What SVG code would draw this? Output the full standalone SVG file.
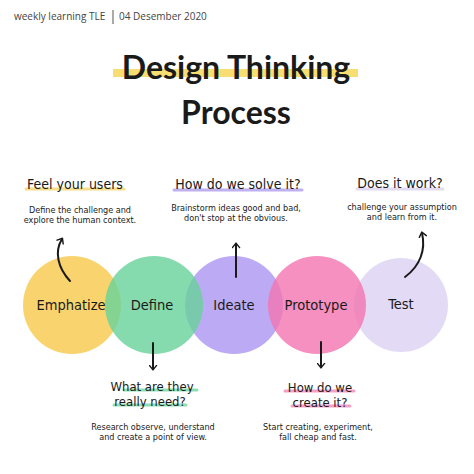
<svg xmlns="http://www.w3.org/2000/svg" width="474" height="474" viewBox="0 0 474 474">
<defs>
<marker id="ah" viewBox="0 0 10 10" refX="5" refY="5" markerWidth="9" markerHeight="9" orient="auto-start-reverse" markerUnits="userSpaceOnUse">
<path d="M1,1 L6,5 L1,9" fill="none" stroke="#1a1a1a" stroke-width="1.6" stroke-linecap="round" stroke-linejoin="round"/>
</marker>
</defs>
<style>
.hdr{font-family:"Open Sans","Liberation Sans",sans-serif;font-size:10px;fill:#444}
.title{font-family:"Lato","Liberation Sans",sans-serif;font-weight:bold;font-size:32px;fill:#1a1a1a;text-anchor:middle}
.lbl{font-family:"Liberation Sans Narrow","DejaVu Sans Condensed","Liberation Sans",sans-serif;font-size:14.5px;fill:#1a1a1a;text-anchor:middle}
.head{font-family:"Liberation Sans Narrow","DejaVu Sans Condensed","Liberation Sans",sans-serif;font-size:14px;fill:#1a1a1a;text-anchor:middle}
.head2{font-family:"Liberation Sans Narrow","DejaVu Sans Condensed","Liberation Sans",sans-serif;font-size:13px;fill:#1a1a1a;text-anchor:middle}
.body{font-family:"Liberation Sans Narrow","DejaVu Sans Condensed","Liberation Sans",sans-serif;font-size:9px;fill:#1a1a1a;text-anchor:middle}
.circ{fill-opacity:0.8}
.conn{fill:none;stroke:#1a1a1a;stroke-width:2;stroke-linecap:round}
.hl{stroke-linecap:round}
</style>
<rect width="474" height="474" fill="#ffffff"/>
<text class="hdr" x="14" y="20">weekly learning TLE</text>
<line x1="113" y1="10" x2="113" y2="24" stroke="#555" stroke-width="1"/>
<text class="hdr" x="119" y="20">04 Desember 2020</text>

<g id="title">
<rect x="113" y="69" width="245" height="8" fill="#F8DE72"/>
<text class="title" x="236" y="79">Design Thinking</text>
<text class="title" x="236" y="124">Process</text>
</g>

<g id="emphatize">
<circle class="circ" cx="72" cy="305" r="49" fill="#F7C94A"/>
<text class="lbl" x="71" y="310">Emphatize</text>
</g>
<g id="ideate">
<circle class="circ" cx="234" cy="305" r="49" fill="#AC95F2"/>
<text class="lbl" x="234" y="310">Ideate</text>
</g>
<g id="define">
<circle class="circ" cx="154" cy="305" r="49" fill="#68D29A"/>
<text class="lbl" x="152" y="310">Define</text>
</g>
<g id="test">
<circle class="circ" cx="401" cy="305" r="47" fill="#DCD2F3"/>
<text class="lbl" x="401" y="309">Test</text>
</g>
<g id="prototype">
<circle class="circ" cx="317" cy="305" r="49" fill="#F274B0"/>
<text class="lbl" x="316" y="310">Prototype</text>
</g>

<g id="feel">
<line class="hl" x1="26" y1="189" x2="124" y2="189" stroke="#F8DE8A" stroke-width="3"/>
<text class="head" x="75" y="189">Feel your users</text>
<text class="body" x="80" y="213">Define the challenge and</text>
<text class="body" x="80" y="223">explore the human context.</text>
</g>
<g id="solve">
<line class="hl" x1="174" y1="190" x2="302" y2="190" stroke="#BFB0F2" stroke-width="3"/>
<text class="head" x="238" y="189">How do we solve it?</text>
<text class="body" x="236" y="211">Brainstorm ideas good and bad,</text>
<text class="body" x="236" y="221">don't stop at the obvious.</text>
</g>
<g id="work">
<line class="hl" x1="357" y1="189" x2="443" y2="189" stroke="#E2DCF3" stroke-width="3"/>
<text class="head" x="400" y="188">Does it work?</text>
<text class="body" x="402" y="210">challenge your assumption</text>
<text class="body" x="402" y="220">and learn from it.</text>
</g>
<g id="need">
<line class="hl" x1="124" y1="390" x2="197" y2="390" stroke="#8FDDB5" stroke-width="3"/>
<line class="hl" x1="114" y1="405" x2="186" y2="405" stroke="#8FDDB5" stroke-width="3"/>
<text class="head2" x="152" y="391">What are they</text>
<text class="head2" x="150" y="406">really need?</text>
<text class="body" x="153" y="430">Research observe, understand</text>
<text class="body" x="153" y="440">and create a point of view.</text>
</g>
<g id="create">
<line class="hl" x1="285" y1="391" x2="354" y2="391" stroke="#F4A0C6" stroke-width="3"/>
<line class="hl" x1="292" y1="406" x2="350" y2="406" stroke="#F4A0C6" stroke-width="3"/>
<text class="head2" x="320" y="392">How do we</text>
<text class="head2" x="320" y="407">create it?</text>
<text class="body" x="318" y="430">Start creating, experiment,</text>
<text class="body" x="318" y="440">fall cheap and fast.</text>
</g>

<g id="connectors">
<path class="conn" d="M70,281 C58,268 54,252 62,239" marker-end="url(#ah)"/>
<path class="conn" d="M236,277 L236,244" marker-end="url(#ah)"/>
<path class="conn" d="M405,277 C420,266 426,250 422,233" marker-end="url(#ah)"/>
<path class="conn" d="M153,343 L153,369" marker-end="url(#ah)"/>
<path class="conn" d="M321,342 L321,367" marker-end="url(#ah)"/>
</g>
</svg>
